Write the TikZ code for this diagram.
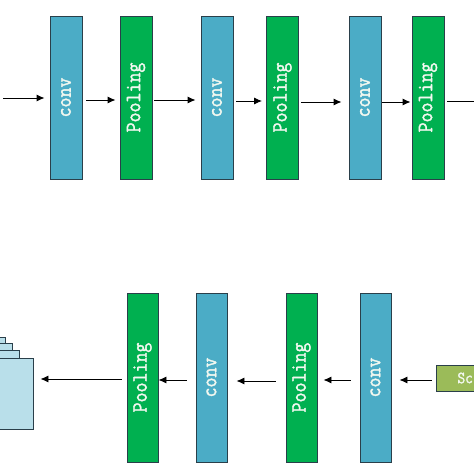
\documentclass[tikz,border=0pt]{standalone}
\usepackage{fontspec}
\newfontfamily\boxfont{Latin Modern Mono}[FakeBold=1.6,FakeStretch=0.88]
\usetikzlibrary{arrows.meta}
\definecolor{convblue}{HTML}{4BACC6}
\definecolor{poolgreen}{HTML}{00B050}
\definecolor{edgedark}{HTML}{2A3F4A}
\definecolor{stackblue}{HTML}{B9DFEA}
\definecolor{scgreen}{HTML}{9BBB59}
\definecolor{txtlight}{HTML}{F2F8F0}
\tikzset{
  layer/.style={draw=edgedark, line width=0.9pt, rotate=90, minimum height=32pt,
    inner sep=0pt, text=txtlight, font=\boxfont\fontsize{22}{22}\selectfont},
  convbox/.style={layer, fill=convblue},
  poolbox/.style={layer, fill=poolgreen},
  toprow/.style={minimum width=163pt},
  botrow/.style={minimum width=169pt, minimum height=31pt},
  arr/.style={-{Latex[length=8pt,width=7pt]}, line width=0.9pt, black},
  stackbox/.style={draw=edgedark, line width=0.9pt, fill=stackblue, inner sep=0pt},
}
\begin{document}
\begin{tikzpicture}[x=1pt,y=-1pt]
\useasboundingbox (0,0) rectangle (474,474);
\clip (0,0) rectangle (474,474);
\fill[white] (0,0) rectangle (474,474);
% top row
\node[convbox,toprow] (c1) at (66,97.5) {conv};
\node[poolbox,toprow] (p1) at (136,97.5) {Pooling};
\node[convbox,toprow] (c2) at (217,97.5) {conv};
\node[poolbox,toprow] (p2) at (282.5,97.5) {Pooling};
\node[convbox,toprow] (c3) at (365,97.5) {conv};
\node[poolbox,toprow] (p3) at (428,97.5) {Pooling};
\coordinate (in) at (3,98);
\coordinate (out) at (490,101);
\draw[arr,shorten >=5pt] (in) -- (c1.north |- in);
\draw[arr,shorten <=4pt,shorten >=4pt] (c1.south |- 0,100) -- (p1.north |- 0,100);
\draw[arr,shorten <=2pt,shorten >=5pt] (p1.south |- 0,100) -- (c2.north |- 0,100);
\draw[arr,shorten <=3pt,shorten >=4pt] (c2.south |- 0,101) -- (p2.north |- 0,101);
\draw[arr,shorten <=2pt,shorten >=7pt] (p2.south |- 0,102) -- (c3.north |- 0,102);
\draw[arr,shorten <=1pt,shorten >=1pt] (c3.south |- 0,102) -- (p3.north |- 0,102);
\draw[line width=0.9pt,shorten <=3pt] (p3.south |- out) -- (out);
% bottom row
\node[poolbox,botrow] (bp1) at (142.5,377.5) {Pooling};
\node[convbox,botrow] (bc1) at (211.5,377.5) {conv};
\node[poolbox,botrow] (bp2) at (301.5,377.5) {Pooling};
\node[convbox,botrow] (bc2) at (375.5,377.5) {conv};
\node[draw=edgedark, line width=0.9pt, fill=scgreen, minimum height=26pt,
  inner ysep=0pt, inner xsep=0pt, text=txtlight, font=\boxfont\fontsize{17}{17}\selectfont, anchor=west]
  (sc) at (436,378) {\hspace*{21pt}Sc\hspace*{60pt}};
% stack
\node[stackbox, minimum width=50pt, minimum height=71pt] (s5) at (-34,360.5) {};
\node[stackbox, minimum width=50pt, minimum height=71pt] (s4) at (-27,366.5) {};
\node[stackbox, minimum width=50pt, minimum height=71pt] (s3) at (-20,372.5) {};
\node[stackbox, minimum width=50pt, minimum height=71pt] (s2) at (-13,378.5) {};
\node[stackbox, minimum width=50pt, minimum height=71pt] (s1) at (-6,386) {};
\node[stackbox, minimum width=50pt, minimum height=71pt] (s0) at (8,393.5) {};
% bottom arrows
\draw[arr,shorten <=4pt,shorten >=8pt] (sc.west |- 0,380) -- (bc2.south |- 0,380);
\draw[arr,shorten <=9pt,shorten >=6pt] (bc2.north |- 0,380) -- (bp2.south |- 0,380);
\draw[arr,shorten <=10pt,shorten >=9pt] (bp2.north |- 0,381) -- (bc1.south |- 0,381);
\draw[arr,shorten <=9pt,shorten >=0pt] (bc1.north |- 0,380) -- (bp1.south |- 0,380);
\draw[arr,shorten <=5pt,shorten >=7pt] (bp1.north |- 0,379) -- (s0.east |- 0,379);
\end{tikzpicture}
\end{document}
